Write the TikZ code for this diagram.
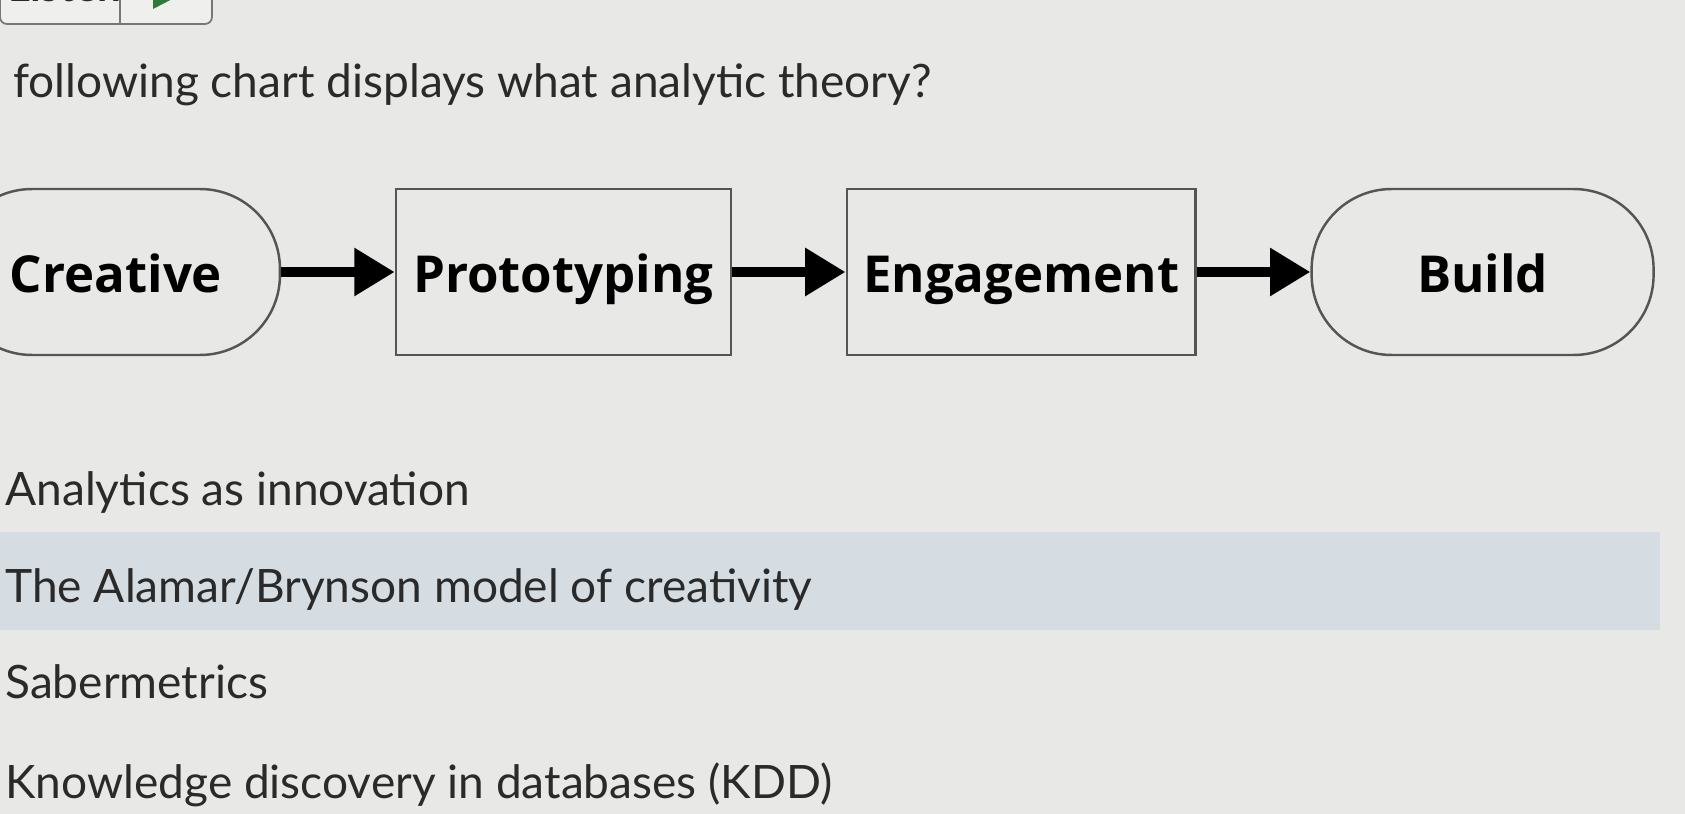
\documentclass[tikz,border=0pt]{standalone}
\usepackage{fontspec}
\setmainfont{Lato}
\newfontfamily\chartfont{Open Sans}
\usetikzlibrary{positioning,arrows.meta}

\definecolor{screen}{HTML}{E8E8E6}
\definecolor{picked}{HTML}{D5DDE2}
\definecolor{ink}{HTML}{2A2A2A}
\definecolor{edgegray}{HTML}{555555}
\definecolor{playgreen}{HTML}{2F7A3A}

\tikzset{
  stepbox/.style={draw=edgegray, line width=1.4pt, minimum height=3.32cm,
    inner sep=1pt, text height=22.8pt, text depth=0pt, text=black,
    font=\chartfont\bfseries\fontsize{29}{33}\selectfont},
  endbox/.style={stepbox, rounded corners=1.6cm},
  flow/.style={line width=6pt, -{Triangle[length=23pt,width=26pt]}},
  answer/.style={anchor=base west, inner sep=0pt, text=ink,
    font=\fontsize{26.2}{31}\selectfont}
}

\begin{document}
\begin{tikzpicture}[x=0.02cm, y=-0.02cm]
  \useasboundingbox (0,0) rectangle (1685,814);
  \clip (0,0) rectangle (1685,814);
  \fill[screen] (0,0) rectangle (1685,814);

  % button strip cut off at the top
  \draw[edgegray!80, fill=screen!70!white, line width=1pt, rounded corners=4pt]
    (0,-20) rectangle (212,24);
  \draw[edgegray!80, line width=1pt] (120,-20) -- (120,24);
  \node[anchor=base west, inner sep=0pt, font=\bfseries\fontsize{24}{28}\selectfont,
    text=ink] (listen) at (8,2) {Listen};
  \fill[playgreen] (153,-20) -- (180,-5) -- (153,9) -- cycle;

  % question
  \node[answer] (question) at (13,98) {following chart displays what analytic theory?};

  % the chart
  \node[endbox, minimum width=6.56cm] (creative) at (116,272) {Creative};
  \node[stepbox, minimum width=6.7cm, right=2.27cm of creative] (proto) {Prototyping};
  \node[stepbox, minimum width=6.98cm, right=2.27cm of proto] (engage) {Engagement};
  \node[endbox, minimum width=6.84cm, right=2.27cm of engage] (build) {Build};

  \draw[flow] (creative) -- (proto);
  \draw[flow] (proto) -- (engage);
  \draw[flow] (engage) -- (build);

  % answers, second one highlighted
  \fill[picked] (0,532) rectangle (1660,630);
  \node[answer] (optA) at (5,505) {Analytics as innovation};
  \node[answer] (optB) at (5,602) {The Alamar/Brynson model of creativity};
  \node[answer] (optC) at (5,698) {Sabermetrics};
  \node[answer] (optD) at (5,798) {Knowledge discovery in databases (KDD)};
\end{tikzpicture}
\end{document}
